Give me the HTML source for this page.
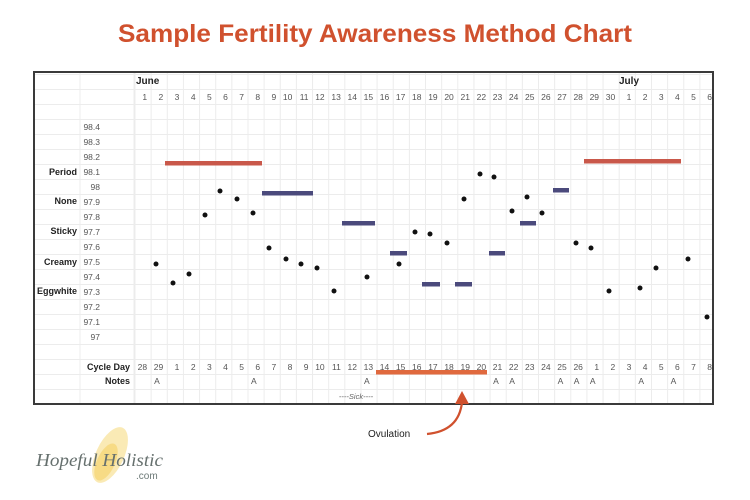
<!DOCTYPE html>
<html><head><meta charset="utf-8"><style>
html,body{margin:0;padding:0;background:#fff;}
svg{display:block;font-family:"Liberation Sans",sans-serif;}
</style></head><body>
<svg width="750" height="500" viewBox="0 0 750 500" xmlns="http://www.w3.org/2000/svg">
<text x="375" y="42" text-anchor="middle" font-size="25" font-weight="bold" fill="#d0512e" textLength="514" lengthAdjust="spacingAndGlyphs">Sample Fertility Awareness Method Chart</text>
<g id="grid" stroke="#ececec" stroke-width="1"></g>
<rect x="34" y="72" width="679" height="332" fill="none" stroke="#3a3a3a" stroke-width="2"/>
<g id="txt" font-size="8.5" fill="#555"></g>
<g font-size="9" font-weight="bold" fill="#222" text-anchor="end">
<text x="77" y="175">Period</text><text x="77" y="204">None</text><text x="77" y="234">Sticky</text>
<text x="77" y="265">Creamy</text><text x="77" y="294">Eggwhite</text>
<text x="130" y="370">Cycle Day</text><text x="130" y="384">Notes</text>
</g>
<g font-size="10" font-weight="bold" fill="#222"><text x="136" y="84">June</text><text x="619" y="84">July</text></g>
<text x="356" y="399" font-size="7.5" font-style="italic" fill="#666" text-anchor="middle">----Sick----</text>
<g>
<rect x="165" y="161" width="97" height="4.5" fill="#c9584a"/>
<rect x="584" y="159" width="97" height="4.5" fill="#c9584a"/>
<g fill="#4b4a7c">
<rect x="262" y="191" width="51" height="4.5"/><rect x="342" y="221" width="33" height="4.5"/>
<rect x="553" y="188" width="16" height="4.5"/><rect x="520" y="221" width="16" height="4.5"/>
<rect x="390" y="251" width="17" height="4.5"/><rect x="489" y="251" width="16" height="4.5"/>
<rect x="422" y="282" width="18" height="4.5"/><rect x="455" y="282" width="17" height="4.5"/>
</g>
<rect x="376" y="370" width="111" height="4.5" fill="#e0693e"/>
</g>
<g id="dots" fill="#111"></g>
<path d="M427 434 C448 432 460 422 462 402" fill="none" stroke="#d0512e" stroke-width="2.2"/>
<polygon points="455,404 469,404 462,391" fill="#d0512e"/>
<text x="368" y="437" font-size="10" fill="#222">Ovulation</text>
<ellipse cx="110" cy="455" rx="14" ry="30" transform="rotate(25 110 455)" fill="#f6d978" opacity="0.55"/>
<ellipse cx="106" cy="462" rx="9" ry="20" transform="rotate(25 106 462)" fill="#f3cc55" opacity="0.5"/>
<text x="36" y="466" font-size="18" font-style="italic" fill="#66706e" font-family="Liberation Serif,serif" textLength="127" lengthAdjust="spacingAndGlyphs">Hopeful Holistic</text>
<text x="136" y="479" font-size="10" fill="#6b7876">.com</text>
<script>
var g=document.getElementById('grid'),t=document.getElementById('txt'),d=document.getElementById('dots'),ns='http://www.w3.org/2000/svg';
function el(p,n,a,tx){var e=document.createElementNS(ns,n);for(var k in a)e.setAttribute(k,a[k]);if(tx!==undefined)e.textContent=tx;p.appendChild(e);return e;}
for(var k=0;k<=22;k++){var y=74.5+15*k;el(g,'line',{x1:34,x2:713,y1:y,y2:y});}
var xs=[80,134];for(var i=0;i<=36;i++)xs.push(135+16.14*i);
xs.forEach(function(x){if(x<713)el(g,'line',{x1:x,x2:x,y1:72,y2:404});});
var temps=['98.4','98.3','98.2','98.1','98','97.9','97.8','97.7','97.6','97.5','97.4','97.3','97.2','97.1','97'];
temps.forEach(function(s,i){el(t,'text',{x:100,y:130+15*i,'text-anchor':'end'},s);});
var dates=[];for(i=1;i<=30;i++)dates.push(i);for(i=1;i<=6;i++)dates.push(i);
var cyc=[28,29];for(i=1;i<=26;i++)cyc.push(i);for(i=1;i<=8;i++)cyc.push(i);
for(i=0;i<36;i++){var r=135+16.14*(i+1)-4;el(t,'text',{x:r,y:100,'text-anchor':'end'},dates[i]);el(t,'text',{x:r,y:370,'text-anchor':'end'},cyc[i]);}
[1,7,14,22,23,26,27,28,31,33].forEach(function(c){el(t,'text',{x:135+16.14*c+3,y:384},'A');});
[[156,264],[173,283],[189,274],[205,215],[220,191],[237,199],[253,213],[269,248],[286,259],[301,264],[317,268],[334,291],[367,277],[399,264],[415,232],[430,234],[447,243],[464,199],[480,174],[494,177],[512,211],[527,197],[542,213],[576,243],[591,248],[609,291],[640,288],[656,268],[688,259],[707,317]].forEach(function(p){el(d,'circle',{cx:p[0],cy:p[1],r:2.5});});
</script>
</svg>
</body></html>
